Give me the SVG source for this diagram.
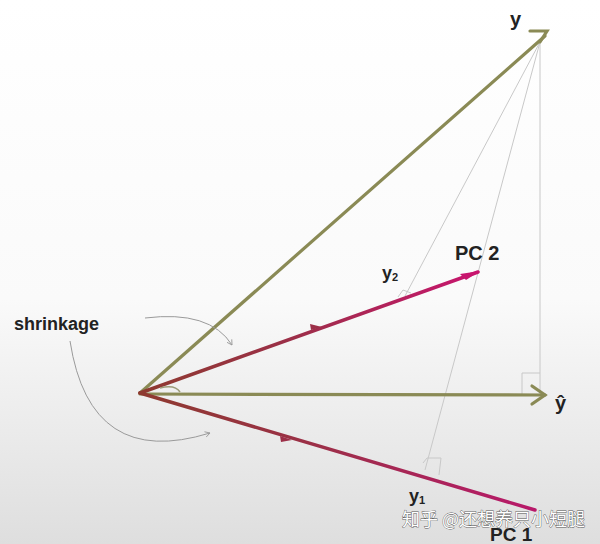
<svg xmlns="http://www.w3.org/2000/svg" width="600" height="544" viewBox="0 0 600 544">
<defs>
<linearGradient id="bg" x1="0" y1="0" x2="0" y2="1">
<stop offset="0" stop-color="#ffffff"/>
<stop offset="0.55" stop-color="#fafafa"/>
<stop offset="1" stop-color="#dedede"/>
</linearGradient>
<linearGradient id="pc2g" gradientUnits="userSpaceOnUse" x1="140" y1="393" x2="478" y2="272">
<stop offset="0" stop-color="#8e3a30"/>
<stop offset="0.45" stop-color="#9c2f48"/>
<stop offset="1" stop-color="#c8156e"/>
</linearGradient>
<linearGradient id="pc1g" gradientUnits="userSpaceOnUse" x1="140" y1="393" x2="535" y2="510">
<stop offset="0" stop-color="#8e3a30"/>
<stop offset="0.45" stop-color="#9c2f48"/>
<stop offset="1" stop-color="#b8196a"/>
</linearGradient>
<marker id="ga" viewBox="0 0 10 10" refX="8" refY="5" markerWidth="7" markerHeight="7" orient="auto">
<path d="M1,1 L8,5 L1,9" fill="none" stroke="#999" stroke-width="1.2"/>
</marker>
<style>
.olive{stroke:#8a8a55;stroke-width:3.2;fill:none;stroke-linecap:round}
.thin{stroke:#c8c8c8;stroke-width:1;fill:none}
.lbl{font-family:"Liberation Sans",Arial,sans-serif;font-weight:bold;fill:#222}
.curve{stroke:#9a9a9a;stroke-width:1;fill:none}
</style>
</defs>
<rect width="600" height="544" fill="url(#bg)"/>
<g id="connectors">
<line class="thin" x1="540" y1="42" x2="540" y2="395"/>
<line class="thin" x1="540" y1="42" x2="425" y2="470"/>
<line class="thin" x1="540" y1="42" x2="405" y2="296"/>
<polyline class="thin" points="522,395 522,373 540,373"/>
<polyline class="thin" points="423,463 427,458 441,458 439,475"/>
<polyline class="thin" points="398,297 403,290 411,293"/>
<line class="olive" x1="140" y1="393" x2="545" y2="36"/>
<polyline class="olive" points="530,31 547,31 540,42" stroke-width="3"/>
<line class="olive" x1="140" y1="394" x2="545" y2="395"/>
<polyline class="olive" points="532,386 545,395 532,404" stroke-width="3.5"/>
<line x1="140" y1="393" x2="478" y2="272" stroke="url(#pc2g)" stroke-width="3.5" stroke-linecap="round"/>
<path d="M460,274 L480,271 L466,280 Z" fill="#c8156e"/>
<path d="M310,324 L322,327 L311,330 Z" fill="#9c2f48"/>
<line x1="140" y1="393" x2="535" y2="510" stroke="url(#pc1g)" stroke-width="3.5" stroke-linecap="round"/>
<path d="M280,436 L292,440 L281,442 Z" fill="#9c2f48"/>
<path d="M160,388 Q175,384 180,392" fill="none" stroke="#9c9c7a" stroke-width="1.5"/>
<path class="curve" d="M145,318 Q210,310 232,345" marker-end="url(#ga)"/>
<path class="curve" d="M70,341 Q90,470 210,433" marker-end="url(#ga)"/>
</g>
<g id="label-y"><text class="lbl" x="510" y="26" font-size="20">y</text></g>
<g id="label-pc2"><text class="lbl" x="455" y="260" font-size="20">PC 2</text></g>
<g id="label-y2"><text class="lbl" x="382" y="279" font-size="18">y<tspan font-size="11" dy="2">2</tspan></text></g>
<g id="label-shrinkage"><text class="lbl" x="14" y="330" font-size="18" fill="#333">shrinkage</text></g>
<g id="label-yhat"><text class="lbl" x="555" y="410" font-size="20">ŷ</text></g>
<g id="label-y1"><text class="lbl" x="409" y="502" font-size="18">y<tspan font-size="11" dy="2">1</tspan></text></g>
<g id="label-pc1"><text class="lbl" x="490" y="541" font-size="19">PC 1</text></g>
<g id="watermark"><text x="402" y="526" font-family="'Noto Sans CJK SC',sans-serif" font-size="18" fill="#ffffff" stroke="#555" stroke-width="0.8" paint-order="stroke">知乎 @还想养只小短腿</text></g>
</svg>
